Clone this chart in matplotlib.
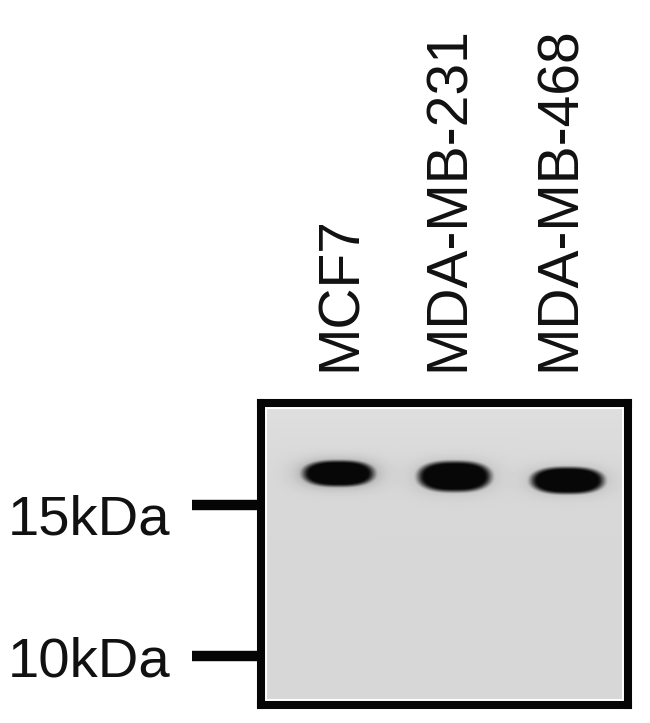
import numpy as np
import matplotlib
matplotlib.use("Agg")
import matplotlib.pyplot as plt
from matplotlib.transforms import ScaledTranslation

plt.rcParams['font.family'] = ['Liberation Sans', 'DejaVu Sans']

lanes = ["MCF7", "MDA-MB-231", "MDA-MB-468"]
lane_x = [341, 449, 560]
marker_labels = ["15kDa", "10kDa"]
marker_y = [504.5, 655.5]
label_shift = [-10, -1]  # text does not sit level with its tick

# band centre / size, in picture pixels
band_x = [338, 454, 567]
band_y = [473, 476, 480]
band_w = [74, 76, 76]
band_h = [27, 32, 28]
band_halo = [0.16, 0.09, 0.09]  # MCF7 band is smearier

left, right, top, bottom = 261, 628, 403, 705

fig = plt.figure(figsize=(6.5, 7.23), dpi=100)
ax = fig.add_axes([left/650, 1-bottom/723, (right-left)/650, (bottom-top)/723])

xx, yy = np.meshgrid(np.arange(left, right), np.arange(top, bottom))
gel = 0.84 + 0.035*np.exp(-(yy-top)/60.0)

for cx, cy, w, h, a in zip(band_x, band_y, band_w, band_h, band_halo):
    d = np.sqrt((np.abs(xx-cx)/(w/2))**2.6 + (np.abs(yy-cy)/(h/2))**2.2)
    core = np.clip((1.12-d)/0.4, 0, 1)
    core = core*core*(3-2*core)
    halo = a*np.exp(-np.clip(d-1, 0, None)/0.35)
    gel = gel*(1-core)*(1-halo) + 0.03*core

# thin white gap between frame and gel
gap = 6
gel[:gap, :] = 1
gel[-gap:, :] = 1
gel[:, :gap] = 1
gel[:, -gap:] = 1

ax.imshow(gel, cmap="gray", vmin=0, vmax=1, extent=[left, right, bottom, top],
          aspect="auto", interpolation="bilinear")
ax.set_xlim(left, right)
ax.set_ylim(bottom, top)

for sp in ax.spines.values():
    sp.set_linewidth(5.8)
    sp.set_color("#050505")

ax.xaxis.tick_top()
ax.set_xticks(lane_x)
ax.set_xticklabels(lanes, rotation=90, fontsize=41, color="#111111", ha="center", va="bottom")
ax.tick_params(axis="x", length=0, pad=23)

ax.set_yticks(marker_y)
ax.set_yticklabels(marker_labels, fontsize=40.5, color="#111111")
ax.tick_params(axis="y", length=50, width=7.5, color="#050505", pad=15)
for lab, s in zip(ax.get_yticklabels(), label_shift):
    lab.set_transform(lab.get_transform() + ScaledTranslation(0, s/100, fig.dpi_scale_trans))

fig.savefig("out.png", dpi=100)
